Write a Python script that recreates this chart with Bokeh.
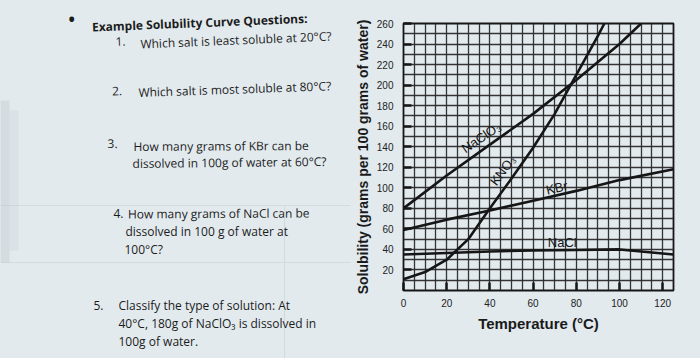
import math
from bokeh.plotting import figure
from bokeh.layouts import row, column
from bokeh.models import Label, Range1d, FixedTicker, SingleIntervalTicker, ColumnDataSource
from bokeh.core.properties import value
from bokeh.embed import file_html
from bokeh.resources import INLINE

# ---- data ----
temps_kno3 = [0, 10, 20, 30, 40, 50, 60, 70, 80, 90, 93]
sol_kno3 = [11, 18, 30, 50, 80, 109, 139, 172, 210, 248, 260]
temps_naclo3 = [0, 20, 40, 60, 80, 100, 110]
sol_naclo3 = [80, 112, 142, 172, 205, 240, 260]
temps_kbr = [0, 20, 40, 60, 80, 100, 125]
sol_kbr = [59, 69, 78, 87.5, 97, 107.5, 118]
temps_nacl = [0, 20, 40, 60, 80, 100, 125]
sol_nacl = [35, 36.5, 38, 39, 39.5, 40, 35]
x_ticks = [0, 20, 40, 60, 80, 100, 120]
y_ticks = [20, 40, 60, 80, 100, 120, 140, 160, 180, 200, 220, 240, 260]

curve_names = ["NaClO\u2083", "KNO\u2083", "KBr", "NaCl"]
label_pos_x = [36, 46, 71, 73.5]
label_pos_y = [149, 117, 100, 47]
label_angles_deg = [34, 53, 13, 0]

# question sheet text: left x, centre y (page px), tilt (deg, + = down to the right), weight, size
q_text = ["\u2022", "Example Solubility Curve Questions:",
          "1.", "Which salt is least soluble at 20\u00b0C?",
          "2.", "Which salt is most soluble at 80\u00b0C?",
          "3.", "How many grams of KBr can be", "dissolved in 100g of water at 60\u00b0C?",
          "4.", "How many grams of NaCl can be", "dissolved in 100 g of water at", "100\u00b0C?",
          "5.", "Classify the type of solution: At",
          "40\u00b0C, 180g of NaClO\u2083 is dissolved in", "100g of water."]
q_x = [68, 91.5, 115, 140, 111.5, 138, 107, 133, 132, 113, 127.5, 125, 124, 93, 118, 118, 118]
q_y = [18.5, 26.5, 41, 43.5, 90.5, 92, 143, 146, 163, 213, 213.5, 231, 248.5, 305, 305, 322.5, 340.5]
q_tilt = [0, 2.3, 2.3, 2.4, 2.0, 2.0, 0.5, 0.3, 0.6, 0, 0.3, 0, 0, 0, 0, 0, 0]
q_style = ["bold", "bold"] + ["normal"] * 15
q_size = ["17px"] + ["12px"] * 16

# faint show-through table rules on the worksheet (page px)
rule_x0 = [0, 0, 284]
rule_x1 = [350, 350, 284]
rule_y0 = [205, 262, 205]
rule_y1 = [205, 262, 358]

BG = "#e2eaee"
INK = "#161616"

W, H = 700, 358
SPLIT = 351
FL, FR, FT, FB = 402, 673, 23, 290  # chart frame edges in page px

# ---- left: question text (data coords = page px, y downward) ----
t = figure(width=SPLIT, height=H, x_range=Range1d(0, SPLIT), y_range=Range1d(H, 0),
           output_backend="svg", toolbar_location=None,
           x_axis_location=None, y_axis_location=None,
           min_border_left=0, min_border_right=0, min_border_top=0, min_border_bottom=0,
           background_fill_color=BG, border_fill_color=BG, outline_line_color=None,
           styles={"background-color": BG})
t.xgrid.visible = False
t.ygrid.visible = False
t.segment(x0=rule_x0, y0=rule_y0, x1=rule_x1, y1=rule_y1,
          line_color="#d2dbdf", line_width=1.2)
t.quad(left=[0], right=[9], top=[100], bottom=[262],
       fill_color="#b9c2c6", fill_alpha=0.35, line_color=None)
t.quad(left=[9], right=[18], top=[110], bottom=[250],
       fill_color="#b9c2c6", fill_alpha=0.18, line_color=None)
src = ColumnDataSource(dict(x=q_x, y=q_y, text=q_text,
                            angle=[math.radians(a) for a in q_tilt],
                            style=q_style, size=q_size))
t.text(x="x", y="y", text="text", angle="angle", source=src,
       text_font=value("Open Sans"), text_font_style="style", text_font_size="size",
       text_align="left", text_baseline="middle", text_color="#1c1c1c")

# ---- right: chart ----
p = figure(width=W - SPLIT, height=H, x_range=Range1d(0, 125), y_range=Range1d(0, 260),
           output_backend="svg", toolbar_location=None,
           min_border_left=FL - SPLIT, min_border_right=W - FR,
           min_border_top=FT, min_border_bottom=H - FB,
           background_fill_color=BG, border_fill_color=BG,
           styles={"background-color": BG})

p.outline_line_color = INK
p.outline_line_width = 1.8
p.outline_line_alpha = 1.0

p.xgrid.ticker = SingleIntervalTicker(interval=5, num_minor_ticks=0)
p.ygrid.ticker = SingleIntervalTicker(interval=10, num_minor_ticks=0)
p.grid.grid_line_color = "#2a2a2a"
p.grid.grid_line_width = 1.3
p.grid.grid_line_alpha = 0.95

p.xaxis.ticker = FixedTicker(ticks=x_ticks)
p.yaxis.ticker = FixedTicker(ticks=y_ticks)
p.axis.axis_line_color = None
p.axis.major_tick_in = 8
p.axis.major_tick_out = 0
p.axis.major_tick_line_width = 2.5
p.axis.major_tick_line_color = INK
p.axis.minor_tick_line_color = None
p.axis.major_label_text_font = "Liberation Sans"
p.axis.major_label_text_font_size = "10px"
p.axis.major_label_text_color = "#222222"
p.xaxis.major_label_standoff = 8
p.yaxis.major_label_standoff = 10

p.xaxis.axis_label = "Temperature (\u00b0C)"
p.yaxis.axis_label = "Solubility (grams per 100 grams of water)"
p.axis.axis_label_text_font = "Liberation Sans"
p.axis.axis_label_text_font_style = "bold"
p.axis.axis_label_text_color = "#1a1a1a"
p.xaxis.axis_label_text_font_size = "15px"
p.yaxis.axis_label_text_font_size = "14px"
p.xaxis.axis_label_standoff = 5
p.yaxis.axis_label_standoff = 3

for tx, sy in [(temps_naclo3, sol_naclo3), (temps_kno3, sol_kno3),
               (temps_kbr, sol_kbr), (temps_nacl, sol_nacl)]:
    p.line(tx, sy, line_color=INK, line_width=2.6)

for name, lx, ly, ang in zip(curve_names, label_pos_x, label_pos_y, label_angles_deg):
    p.add_layout(Label(x=lx, y=ly, text=name, angle=math.radians(ang),
                       text_align="center", text_baseline="middle",
                       text_font="Liberation Sans", text_font_size="13px",
                       text_color=INK))

layout = row(column(t, styles={"background-color": BG}), p, spacing=0,
             styles={"background-color": BG})
open("out.html", "w").write(file_html(layout, INLINE))
